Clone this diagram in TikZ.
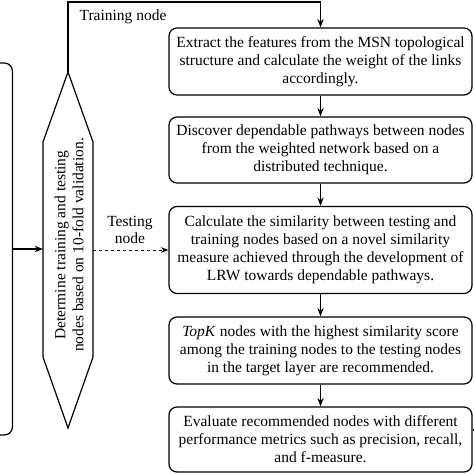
\documentclass[tikz,border=0pt]{standalone}
\usepackage{fontspec}
\setmainfont{Liberation Serif}
\usetikzlibrary{arrows.meta}
\tikzset{
  >=Stealth,
  stepbox/.style={draw, rounded corners=8pt, line width=1.2pt,
    align=center, minimum width=303pt, inner sep=2pt,
    font=\fontsize{15.5}{18}\selectfont},
  lbl/.style={align=center, font=\fontsize{15.5}{16.5}\selectfont}
}
\begin{document}
\begin{tikzpicture}[x=1pt, y=-1pt, line width=1.2pt]
  \clip (0,0) rectangle (474,474);
  % Left-hand box
  \node[draw, rounded corners=8pt, minimum width=60pt, minimum height=372pt, anchor=east] (input) at (13,249) {};
  % Split arrow
  \draw (68,72) -- (93,142) -- (93,357) -- (68,428) -- (43,357) -- (43,142) -- cycle;
  \coordinate (splitTop) at (68,72);
  \coordinate (splitL) at (43,249);
  \coordinate (splitR) at (93,250);
  \node[rotate=90, align=center, font=\fontsize{15.5}{18}\selectfont] (split) at (69,245)
    {Determine training and testing\\nodes based on 10-fold validation.};
  % Right-hand boxes
  \node[stepbox, minimum height=67pt] (extract) at (320.5,61.5)
    {Extract the features from the MSN topological\\structure and calculate the weight of the links\\accordingly.};
  \node[stepbox, minimum height=66pt] (discover) at (320.5,150)
    {Discover dependable pathways between nodes\\from the weighted network based on a\\distributed technique.};
  \node[stepbox, minimum height=87pt] (similar) at (320.5,250)
    {Calculate the similarity between testing and\\training nodes based on a novel similarity\\measure achieved through the development of\\LRW towards dependable pathways.};
  \node[stepbox, minimum height=67pt] (topk) at (320.5,350.5)
    {\textit{TopK} nodes with the highest similarity score\\among the training nodes to the testing nodes\\in the target layer are recommended.};
  \node[stepbox, minimum height=65pt] (evaluate) at (320.5,439.5)
    {Evaluate recommended nodes with different\\performance metrics such as precision, recall,\\and f-measure.};
  % Connectors
  \draw[->] (input.east) -- (splitL);
  \draw[->] (splitTop) -- (68,2) -| (extract.north);
  \node[lbl] (train) at (123,17) {Training node};
  \draw[->, dashed, line width=1pt] (splitR) -- (similar.west |- splitR);
  \node[lbl] (test) at (130,230) {Testing\\node};
  \draw[->] (extract) -- (discover);
  \draw[->] (discover) -- (similar);
  \draw[->] (similar) -- (topk);
  \draw[->] (topk) -- (evaluate);
  \coordinate (out) at (490,430);
  \draw (evaluate.east |- out) -- (out);
\end{tikzpicture}
\end{document}
